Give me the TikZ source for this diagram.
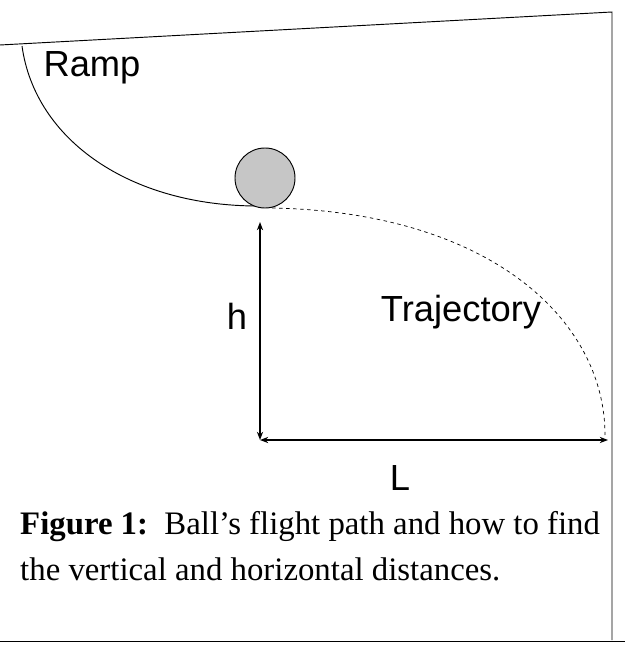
\documentclass[tikz,border=0pt]{standalone}
\usepackage{fontspec}
\setmainfont{Liberation Serif}
\newfontfamily\lab{Liberation Sans}
\usetikzlibrary{arrows.meta}
\begin{document}
\begin{tikzpicture}[x=0.03cm,y=-0.03cm,
  lbl/.style={font=\lab\fontsize{31}{36}\selectfont,inner sep=0},
  captext/.style={font=\fontsize{28}{32}\selectfont,inner sep=0,anchor=west},
  arr/.style={line width=1.2pt,{Stealth[length=7pt]}-{Stealth[length=7pt]}}]
\fill[white] (0,0) rectangle (625,657);
\useasboundingbox (0,0) rectangle (625,657);
\draw[line width=0.8pt] (0,45) -- (612,12) -- (612,640);
\draw[line width=0.8pt] (0,641) -- (625,641);
\coordinate (r0) at (22,46);
\coordinate (r1) at (258,206);
\draw[line width=0.8pt] (r0) .. controls (35,140) and (130,206) .. (r1);
\node[circle,draw,line width=0.8pt,fill=gray!45,minimum size=60*0.03cm,inner sep=0] (ball) at (265,178) {};
\coordinate (t0) at (272,208);
\coordinate (t1) at (605,435);
\draw[dashed,line width=0.6pt] (t0) .. controls (490,212) and (605,320) .. (t1);
\coordinate (top) at (260,222);
\coordinate (corner) at (260,440);
\coordinate (right) at (608,440);
\draw[arr] (top) -- (corner);
\draw[arr] (corner) -- (right);
\node[lbl] (ramp) at (92,68) {Ramp};
\node[lbl] (h) at (237,316) {h};
\node[lbl] (traj) at (461,312) {Trajectory};
\node[lbl] (L) at (400,478) {L};
\node[captext] (c1) at (20,527) {\textbf{Figure 1:}\ \ Ball's flight path and how to find};
\node[captext] (c2) at (20,569) {the vertical and horizontal distances.};
\end{tikzpicture}
\end{document}
